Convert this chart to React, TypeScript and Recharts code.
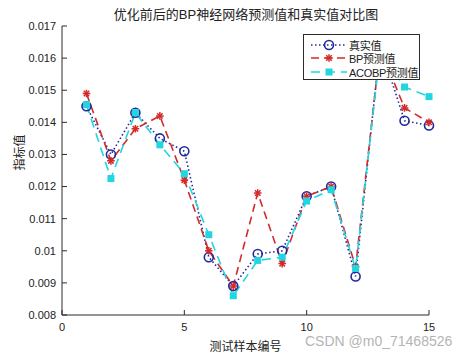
import { Legend, Line, LineChart, XAxis, YAxis } from 'recharts';

const samples = [1, 2, 3, 4, 5, 6, 7, 8, 9, 10, 11, 12, 13, 14, 15];
const actualValues = [0.0145, 0.013, 0.0143, 0.0135, 0.0131, 0.0098, 0.0089, 0.0099, 0.01, 0.0117, 0.012, 0.0092, 0.0164, 0.01405, 0.0139];
const bpValues = [0.0149, 0.0128, 0.0138, 0.0142, 0.0122, 0.01, 0.0089, 0.0118, 0.0096, 0.0117, 0.012, 0.0095, 0.0163, 0.01445, 0.014];
const acoValues = [0.01455, 0.01225, 0.0143, 0.0133, 0.0124, 0.0105, 0.0086, 0.0097, 0.0098, 0.01155, 0.0119, 0.00945, 0.0162, 0.0151, 0.0148];
const xTicks = [0, 5, 10, 15];
const yTicks = [0.008, 0.009, 0.01, 0.011, 0.012, 0.013, 0.014, 0.015, 0.016, 0.017];

const data = samples.map((x, i) => ({ x, actual: actualValues[i], bp: bpValues[i], aco: acoValues[i] }));

const BLUE = '#1f2a9c';
const RED = '#d42a2a';
const CYAN = '#22d6e0';
const AXIS = '#2b2b2b';
const FONT = '"Liberation Sans", Arial, "Noto Sans CJK SC", sans-serif';

const CircleDot = (p: any) => (
  <circle key={`c${p.index}`} cx={p.cx} cy={p.cy} r={4.5} fill="none" stroke={BLUE} strokeWidth={1.6} />
);

const StarDot = (p: any) => {
  const r = 3.8;
  const d = r * 0.72;
  return (
    <g key={`s${p.index}`} stroke={RED} strokeWidth={1.5}>
      <line x1={p.cx - r} y1={p.cy} x2={p.cx + r} y2={p.cy} />
      <line x1={p.cx} y1={p.cy - r} x2={p.cx} y2={p.cy + r} />
      <line x1={p.cx - d} y1={p.cy - d} x2={p.cx + d} y2={p.cy + d} />
      <line x1={p.cx - d} y1={p.cy + d} x2={p.cx + d} y2={p.cy - d} />
    </g>
  );
};

const SquareDot = (p: any) => (
  <rect key={`q${p.index}`} x={p.cx - 3.5} y={p.cy - 3.5} width={7} height={7} fill={CYAN} />
);

const legendItems = [
  { label: '真实值', color: BLUE, dash: '1.5 2.5', marker: 'circle' },
  { label: 'BP预测值', color: RED, dash: '8 5', marker: 'star' },
  { label: 'ACOBP预测值', color: CYAN, dash: '9 6', marker: 'square' },
];

function LegendBox() {
  return (
    <div style={{ background: '#fff', border: `1px solid ${AXIS}`, width: 117, height: 46, boxSizing: 'border-box', padding: '3px 0 0 0' }}>
      {legendItems.map(item => (
        <div key={item.label} style={{ display: 'flex', alignItems: 'center', height: 13.5, whiteSpace: 'nowrap', fontFamily: FONT, fontSize: 11, color: '#222' }}>
          <svg width={38} height={12} style={{ marginLeft: 6, flex: 'none' }}>
            <line x1={1} y1={6} x2={37} y2={6} stroke={item.color} strokeWidth={1.6} strokeDasharray={item.dash} />
            {item.marker === 'circle' && <CircleDot cx={19} cy={6} index={0} />}
            {item.marker === 'star' && <StarDot cx={19} cy={6} index={0} />}
            {item.marker === 'square' && <SquareDot cx={19} cy={6} index={0} />}
          </svg>
          <span style={{ marginLeft: 1, letterSpacing: -0.3 }}>{item.label}</span>
        </div>
      ))}
    </div>
  );
}

export default function App() {
  return (
    <div style={{ position: 'absolute', left: 0, top: 0, width: 474, height: 355, background: '#fff' }}>
      <div style={{ position: 'absolute', left: 0, width: 492, top: 4, textAlign: 'center', fontFamily: FONT, fontSize: 13, color: '#222' }}>
        优化前后的BP神经网络预测值和真实值对比图
      </div>
      <LineChart width={474} height={355} data={data} margin={{ top: 26, right: 45, bottom: 0, left: 0 }}>
        <XAxis
          dataKey="x"
          type="number"
          domain={[0, 15]}
          ticks={xTicks}
          height={40}
          stroke={AXIS}
          tickSize={-5}
          tickMargin={13}
          tick={{ fill: '#222', fontSize: 11, fontFamily: FONT }}
          label={{ value: '测试样本编号', position: 'insideBottom', offset: 4, fill: '#222', fontSize: 12, fontFamily: FONT }}
        />
        <XAxis xAxisId="top" orientation="top" type="number" domain={[0, 15]} ticks={xTicks} height={0} stroke={AXIS} tickSize={-5} tick={false} />
        <YAxis
          type="number"
          domain={[0.008, 0.017]}
          ticks={yTicks}
          width={62}
          stroke={AXIS}
          tickSize={-5}
          tickMargin={11}
          allowDataOverflow
          tick={{ fill: '#222', fontSize: 11, fontFamily: FONT }}
          label={{ value: '指标值', angle: -90, position: 'insideLeft', offset: 20, fill: '#222', fontSize: 12, fontFamily: FONT }}
        />
        <YAxis yAxisId="right" orientation="right" type="number" domain={[0.008, 0.017]} ticks={yTicks} width={0} stroke={AXIS} tickSize={-5} tick={false} />
        <Line dataKey="actual" stroke={BLUE} strokeWidth={1.6} strokeDasharray="1.5 2.5" dot={CircleDot} isAnimationActive={false} />
        <Line dataKey="bp" stroke={RED} strokeWidth={1.6} strokeDasharray="8 5" dot={StarDot} isAnimationActive={false} />
        <Line dataKey="aco" stroke={CYAN} strokeWidth={1.6} strokeDasharray="9 6" dot={SquareDot} isAnimationActive={false} />
        <Legend
          layout="horizontal"
          verticalAlign="middle"
          align="center"
          content={LegendBox}
          wrapperStyle={{ left: 303, top: 34, width: 117, height: 46 }}
        />
      </LineChart>
      <div style={{ position: 'absolute', left: 305, top: 333, fontFamily: FONT, fontSize: 14, color: '#b4b4b4' }}>
        CSDN @m0_71468526
      </div>
    </div>
  );
}
